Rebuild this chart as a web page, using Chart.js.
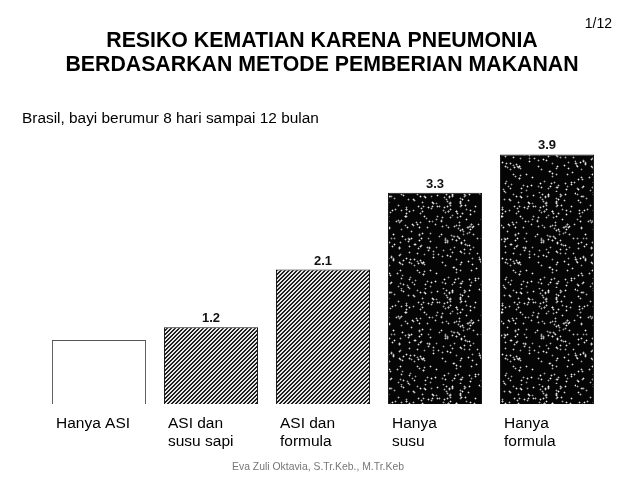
<!DOCTYPE html>
<html>
<head>
<meta charset="utf-8">
<script src="https://cdn.jsdelivr.net/npm/chart.js@4/dist/chart.umd.min.js"></script>
<style>
html,body{margin:0;padding:0;background:#fff;}
canvas{display:block;}
</style>
</head>
<body>
<canvas id="c" width="638" height="478"></canvas>
<script>
const titleLines = ['RESIKO KEMATIAN KARENA PNEUMONIA', 'BERDASARKAN METODE PEMBERIAN MAKANAN'];
const subtitleText = 'Brasil, bayi berumur 8 hari sampai 12 bulan';
const pageText = '1/12';
const footerText = 'Eva Zuli Oktavia, S.Tr.Keb., M.Tr.Keb';
const categories = [['Hanya ASI'], ['ASI dan', 'susu sapi'], ['ASI dan', 'formula'], ['Hanya', 'susu'], ['Hanya', 'formula']];
const riskValues = [1, 1.2, 2.1, 3.3, 3.9];
const valueLabels = ['', '1.2', '2.1', '3.3', '3.9'];
const fillKinds = ['plain', 'hatch', 'hatch', 'speckle', 'speckle'];

const FONT = "'Liberation Sans', Arial, Helvetica, sans-serif";

function makeHatch() {
  const t = document.createElement('canvas');
  t.width = 4; t.height = 4;
  const g = t.getContext('2d');
  g.fillStyle = '#e8e8e8'; g.fillRect(0, 0, 4, 4);
  g.fillStyle = '#1e1e1e';
  for (let x = 0; x < 4; x++) for (let y = 0; y < 4; y++) {
    const m = (x + y) % 4;
    if (m === 2 || m === 3) g.fillRect(x, y, 1, 1);
  }
  return g.createPattern(t, 'repeat');
}
function makeSpeckle() {
  const t = document.createElement('canvas');
  t.width = 96; t.height = 96;
  const g = t.getContext('2d');
  g.fillStyle = '#050505'; g.fillRect(0, 0, 96, 96);
  let s = 24680;
  const rnd = () => { s = (s * 1103515245 + 12345) & 0x7fffffff; return s / 0x7fffffff; };
  for (let i = 0; i < 340; i++) {
    const x = Math.floor(rnd() * 96), y = Math.floor(rnd() * 96);
    const v = 150 + Math.floor(rnd() * 100);
    g.fillStyle = 'rgba(' + v + ',' + v + ',' + v + ',0.35)';
    g.fillRect(x - 1, y, 3, 1);
    g.fillRect(x, y - 1, 1, 3);
    g.fillStyle = 'rgb(' + v + ',' + v + ',' + v + ')';
    g.fillRect(x, y, 1, 1);
  }
  return g.createPattern(t, 'repeat');
}
const hatch = makeHatch();
const speckle = makeSpeckle();
const fills = fillKinds.map(k => k === 'plain' ? '#ffffff' : (k === 'hatch' ? hatch : speckle));
const borders = fillKinds.map(k => k === 'plain' ? '#555555' : '#111111');

const textPlugin = {
  id: 'texts',
  afterDatasetsDraw(chart) {
    const ctx = chart.ctx;
    ctx.save();
    ctx.fillStyle = '#000';
    ctx.textAlign = 'center';
    ctx.textBaseline = 'alphabetic';
    ctx.font = 'bold 21.3px ' + FONT;
    ctx.fillText(titleLines[0], 322, 47);
    ctx.fillText(titleLines[1], 322, 71);
    ctx.font = '14px ' + FONT;
    ctx.textAlign = 'right';
    ctx.fillText(pageText, 612, 28);
    ctx.textAlign = 'left';
    ctx.font = '15.4px ' + FONT;
    ctx.fillText(subtitleText, 22, 123);
    ctx.textAlign = 'center';
    ctx.font = '10.4px ' + FONT;
    ctx.fillStyle = '#777';
    ctx.fillText(footerText, 318, 470);

    const meta = chart.getDatasetMeta(0);
    meta.data.forEach((el, i) => {
      ctx.fillStyle = '#111';
      ctx.textAlign = 'center';
      ctx.font = 'bold 13px ' + FONT;
      if (valueLabels[i]) ctx.fillText(valueLabels[i], el.x, el.y - 5);
      ctx.textAlign = 'left';
      ctx.font = '15.5px ' + FONT;
      ctx.fillStyle = '#000';
      categories[i].forEach((line, j) => {
        ctx.fillText(line, el.x - el.width / 2 + 4, el.base + 24 + j * 18);
      });
    });
    ctx.restore();
  }
};

new Chart(document.getElementById('c'), {
  type: 'bar',
  data: {
    labels: categories.map(c => c.join(' ')),
    datasets: [{
      data: riskValues,
      backgroundColor: fills,
      borderColor: borders,
      borderWidth: 1,
      barPercentage: 0.84,
      categoryPercentage: 1.0
    }]
  },
  options: {
    responsive: false,
    devicePixelRatio: 1,
    animation: false,
    layout: { padding: { top: 116, bottom: 74, left: 43, right: 35 } },
    plugins: { legend: { display: false }, tooltip: { enabled: false }, title: { display: false } },
    scales: {
      x: { display: false },
      y: { display: false, min: 0, max: 4.5 }
    }
  },
  plugins: [textPlugin]
});
</script>
</body>
</html>
